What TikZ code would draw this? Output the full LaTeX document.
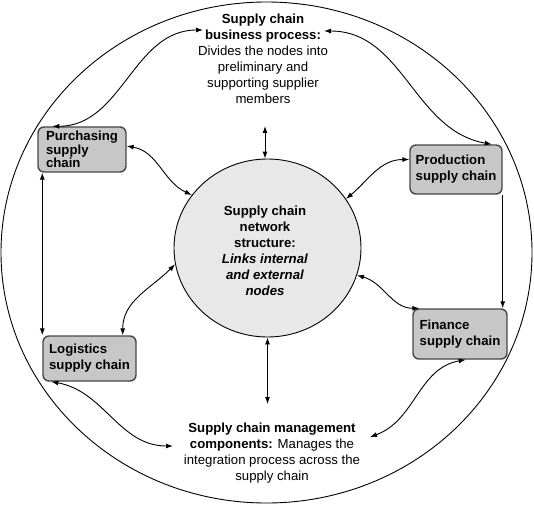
\documentclass[tikz,border=0pt]{standalone}
\usepackage{fontspec}
\setmainfont{Liberation Sans}
\usetikzlibrary{arrows.meta,shapes.geometric}
\newcommand{\scfont}{\fontsize{13.2}{16}\selectfont}

\begin{document}
\begin{tikzpicture}[
    x=1pt, y=-1pt,
    chainbox/.style={rectangle, draw=black!72, line width=1.4pt, rounded corners=6pt, fill=black!22, font=\scfont\bfseries, align=left, inner sep=0pt},
    note/.style={align=center, font=\scfont, inner sep=0pt},
    twoway/.style={{Latex[length=7pt,width=5pt]}-{Latex[length=7pt,width=5pt]}, line width=0.9pt},
    oneway/.style={-{Latex[length=7pt,width=5pt]}, line width=0.9pt}
  ]

    \useasboundingbox (0,0) rectangle (534,505);

    \node[ellipse, draw, line width=0.9pt, minimum width=531pt, minimum height=501pt, inner sep=0pt] (outer) at (266.5,252.5) {};

    \node[ellipse, draw, line width=0.9pt, fill=black!9, minimum width=187pt, minimum height=178pt, inner sep=0pt] (hub) at (267.5,248) {};
    \node[note, font=\scfont\bfseries] (hubtext) at (265,251) {Supply chain\\network\\structure:\\\textit{Links internal}\\\textit{and external}\\\textit{nodes}};

    \node[note] (process) at (263,58.5) {\textbf{Supply chain}\\\textbf{business process:}\\Divides the nodes into\\preliminary and\\supporting supplier\\members};
    \node[note] (comp) at (272,453) {\textbf{Supply chain management}\\\textbf{components:} Manages the\\integration process across the\\supply chain};

    \node[chainbox, minimum width=88pt, minimum height=45pt, font=\fontsize{13.2}{13.5}\selectfont\bfseries] (purch) at (82,149.5) {Purchasing\\supply\\chain};
    \node[chainbox, minimum width=92pt, minimum height=49pt] (prod) at (456,169.5) {Production\\supply chain};
    \node[chainbox, minimum width=94pt, minimum height=50pt] (fin) at (460,334) {Finance\\supply chain};
    \node[chainbox, minimum width=93pt, minimum height=45pt] (logi) at (89.5,358.5) {Logistics\\supply chain};

    \coordinate (procL) at (203,30);
    \coordinate (procR) at (324,31);
    \coordinate (procB) at (265,126);
    \coordinate (compT) at (267,404);
    \coordinate (compL) at (173,446);
    \coordinate (compR) at (370,437);

    \draw[twoway] (procB) -- (procB |- hub.north);
    \draw[twoway] (hub.south) -- (hub.south |- compT);
    \draw[twoway] ([xshift=15pt]purch.north west) to[out=0, in=180] (procL);
    \draw[twoway] (procR) to[out=0, in=170] ([xshift=-11pt]prod.north east);
    \draw[twoway] ([yshift=3.5pt]purch.east) to[out=-10, in=155] (hub.145);
    \draw[twoway] ([yshift=10pt]prod.west) to[out=180, in=40] (hub.32);
    \draw[twoway] (hub.343) to[out=-15, in=180] ([xshift=7pt]fin.north west);
    \draw[twoway] (hub.190) to[out=225, in=90] ([xshift=-14pt]logi.north east);
    \draw[twoway] ([xshift=9pt]logi.south west) to[out=-10, in=180] (compL);
    \draw[twoway] ([xshift=-42pt]fin.south east) to[out=190, in=20] (compR);
    \draw[twoway] (logi.north west) -- (logi.north west |- purch.south);
    \draw[oneway] (prod.south east) -- (prod.south east |- fin.north);
  \end{tikzpicture}
\end{document}
